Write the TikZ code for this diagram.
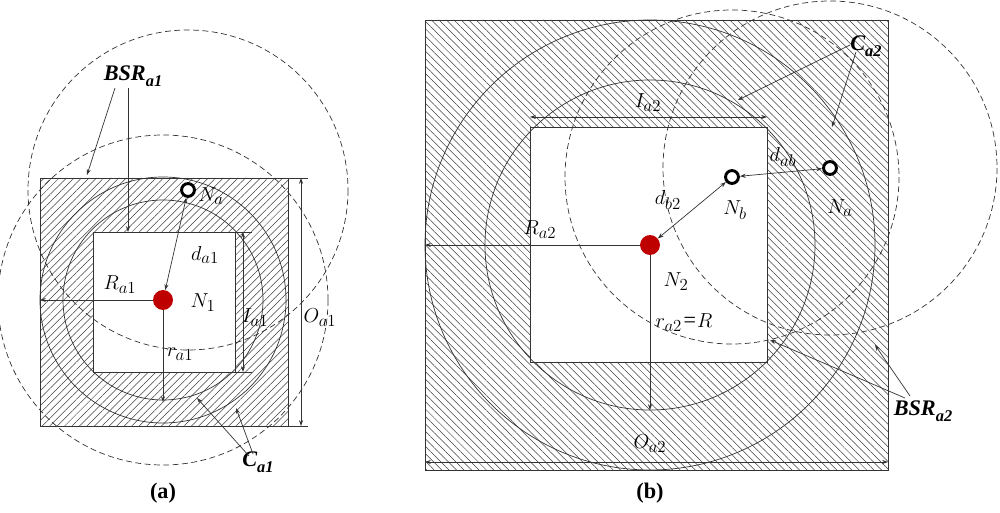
\documentclass[tikz,border=0pt]{standalone}
\usepackage{fontspec}
\setmainfont{Liberation Serif}
\usetikzlibrary{patterns.meta,arrows.meta}
\newcommand{\bsub}[1]{\raisebox{-0.25em}{\fontsize{14}{16}\selectfont #1}}
\begin{document}
\begin{tikzpicture}[x=0.03cm,y=-0.03cm,
 ln/.style={line width=0.6pt,black!80},
 dsh/.style={line width=0.6pt,dash pattern=on 5pt off 3pt,black!80},
 arr/.style={ln,-{Stealth[length=5pt,width=3.5pt]}},
 darr/.style={ln,{Stealth[length=5pt,width=3.5pt]}-{Stealth[length=5pt,width=3.5pt]}},
 lbl/.style={font=\fontsize{19}{22}\selectfont\itshape,inner sep=1pt},
 blbl/.style={font=\fontsize{19}{22}\selectfont\bfseries\itshape,inner sep=1pt},
 figcap/.style={font=\fontsize{19}{22}\selectfont\bfseries},
 rednode/.style={circle,fill=red!75!black,minimum size=17pt,inner sep=0},
 ring/.style={circle,draw,line width=2.5pt,minimum size=11pt,inner sep=0,fill=white}]
\useasboundingbox (0,0) rectangle (1000,513);
% ---------- (a)
\fill[even odd rule,pattern={Lines[angle=45,distance=4.5pt,line width=0.45pt]},pattern color=black!75]
 (40,178) rectangle (288,426) (93,232) rectangle (235,372);
\draw[ln] (40,178) rectangle (288,426);
\draw[ln] (93,232) rectangle (235,372);
\draw[ln] (235,232) -- (252,232) (235,372) -- (252,372);
\draw[ln] (288,178) -- (308,178) (288,426) -- (308,426);
\coordinate (N1c) at (163,300);
\draw[ln] (N1c) circle[radius=123];
\draw[ln] (N1c) circle[radius=100];
\draw[dsh] (188,190) circle[radius=160];
\draw[dsh] (N1c) circle[radius=165];
\node[rednode] (N1) at (N1c) {};
\node[ring] (Na1) at (188,190) {};
\coordinate (Ra1e) at (40,300);
\coordinate (ra1e) at (163,402);
\coordinate (Ia1t) at (243,232); \coordinate (Ia1b) at (243,372);
\coordinate (Oa1t) at (301,178); \coordinate (Oa1b) at (301,426);
\draw[arr] (N1) -- (Ra1e);
\draw[arr] (N1) -- (ra1e);
\draw[darr] (Na1) -- (N1);
\draw[darr] (Ia1t) -- (Ia1b);
\draw[darr] (Oa1t) -- (Oa1b);
\node[lbl] at (120,285) {$R_{a1}$};
\node[lbl] at (205,255) {$d_{a1}$};
\node[lbl] at (203,303) {$N_1$};
\node[lbl] at (255,318) {$I_{a1}$};
\node[lbl] at (320,318) {$O_{a1}$};
\node[lbl] at (180,354) {$r_{a1}$};
\node[lbl,anchor=west] at (197,196) {$N_a$};
\node[blbl] (BSRa1) at (133,76) {BSR\bsub{a1}};
\coordinate (b1a) at (87,175); \coordinate (b1b) at (128,232);
\draw[arr] (115,88) -- (b1a);
\draw[arr] (128,88) -- (b1b);
\node[blbl] (Ca1) at (258,462) {C\bsub{a1}};
\coordinate (c1a) at (197,398); \coordinate (c1b) at (236,408);
\draw[arr] (249,456) -- (c1a);
\draw[arr] (253,454) -- (c1b);
\node[figcap] at (163,493) {(a)};
% ---------- (b)
\fill[even odd rule,pattern={Lines[angle=-45,distance=4.5pt,line width=0.45pt]},pattern color=black!75]
 (425,20) rectangle (888,470) (530,127) rectangle (767,362);
\draw[ln] (425,20) rectangle (888,470);
\draw[ln] (530,127) rectangle (767,362);
\coordinate (N2c) at (650,245);
\draw[ln] (N2c) circle[radius=225];
\draw[ln] (N2c) circle[radius=165];
\draw[dsh] (732,177) circle[radius=167];
\draw[dsh] (830,168) circle[radius=167];
\node[rednode] (N2) at (N2c) {};
\node[ring] (Nb) at (732,177) {};
\node[ring] (Na2) at (830,168) {};
\coordinate (Ra2e) at (425,245);
\coordinate (ra2e) at (650,410);
\coordinate (Ia2l) at (530,117); \coordinate (Ia2r) at (767,117);
\coordinate (Oa2l) at (425,462); \coordinate (Oa2r) at (888,462);
\draw[arr] (N2) -- (Ra2e);
\draw[arr] (N2) -- (ra2e);
\draw[darr] (Nb) -- (N2);
\draw[darr] (Nb) -- (Na2);
\draw[darr] (Ia2l) -- (Ia2r);
\draw[darr] (Oa2l) -- (Oa2r);
\node[lbl] at (648,103) {$I_{a2}$};
\node[lbl] at (783,157) {$d_{ab}$};
\node[lbl] at (668,200) {$d_{b2}$};
\node[lbl] at (735,210) {$N_b$};
\node[lbl] at (840,208) {$N_a$};
\node[lbl] at (540,230) {$R_{a2}$};
\node[lbl] at (676,282) {$N_2$};
\node[lbl] at (684,323) {$r_{a2}$=$R$};
\node[lbl] at (650,444) {$O_{a2}$};
\node[blbl] (Ca2) at (866,46) {C\bsub{a2}};
\coordinate (c2a) at (738,100); \coordinate (c2b) at (832,127);
\draw[arr] (850,45) -- (c2a);
\draw[arr] (856,52) -- (c2b);
\node[blbl] (BSRa2) at (923,411) {BSR\bsub{a2}};
\coordinate (b2a) at (770,340); \coordinate (b2b) at (875,345);
\draw[arr] (905,398) -- (b2a);
\draw[arr] (910,396) -- (b2b);
\node[figcap] at (650,493) {(b)};
\end{tikzpicture}
\end{document}
